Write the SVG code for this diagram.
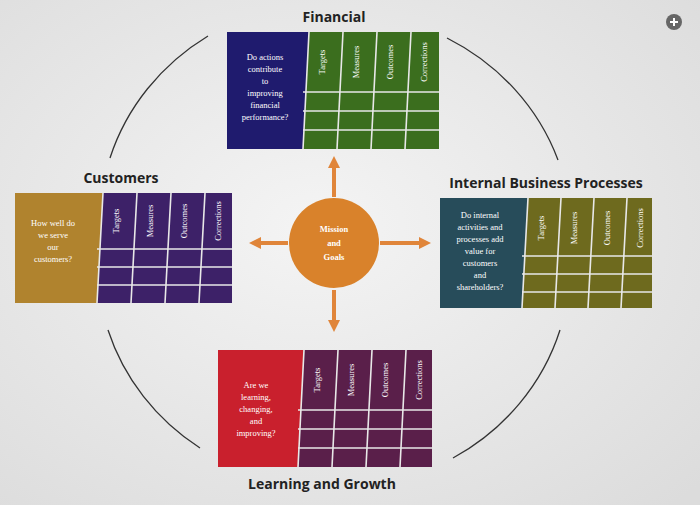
<svg xmlns="http://www.w3.org/2000/svg" width="700" height="505" viewBox="0 0 700 505">
<defs>
<radialGradient id="bg" cx="0.45" cy="0.45" r="0.75"><stop offset="0" stop-color="#f4f4f4"/><stop offset="1" stop-color="#dcdcdc"/></radialGradient>
<marker id="ah" viewBox="0 0 10 10" refX="5" refY="5" markerWidth="3" markerHeight="3" orient="auto"><path d="M0,0 L10,5 L0,10 z" fill="#e0853a"/></marker>
</defs>
<style>
.t{font-family:"Open Sans","Liberation Sans",sans-serif;font-weight:bold;fill:#222;font-size:14px;text-anchor:middle}
.q{font-family:"Liberation Serif",serif;font-size:8.5px;fill:#fff;text-anchor:middle}
.h{font-family:"Liberation Serif",serif;font-size:8.5px;fill:#fff;text-anchor:middle}
.ln{stroke:#e8e8e8;stroke-width:1.6;fill:none}
.arc{stroke:#333;stroke-width:1.3;fill:none}
.arr{stroke:#e0853a;stroke-width:4;fill:none;marker-end:url(#ah)}
</style>
<rect width="700" height="505" fill="url(#bg)"/>
<g id="connectors">
<path class="arc" d="M110,158 A235 222 0 0 1 208,36"/>
<path class="arc" d="M447,38 A235 222 0 0 1 558,160"/>
<path class="arc" d="M560,330 A235 222 0 0 1 453,458"/>
<path class="arc" d="M200,448 A235 222 0 0 1 108,330"/>
<path class="arr" d="M334,197 V162"/>
<path class="arr" d="M288,243 H255"/>
<path class="arr" d="M380,243 H425"/>
<path class="arr" d="M334,290 V326"/>
</g>
<g id="mission"><circle cx="334" cy="243" r="45" fill="#d9822b"/>
<text class="h" x="334" y="232" font-weight="bold">Mission</text><text class="h" x="334" y="246" font-weight="bold">and</text><text class="h" x="334" y="260" font-weight="bold">Goals</text></g>

<g id="financial" transform="translate(227,32)">
<text class="t" x="107" y="-10">Financial</text>
<rect x="0" y="0" width="212" height="117" fill="#3b6e1e"/>
<path d="M0,0 H82 L76,117 H0 z" fill="#1f1b6e"/>
<path class="ln" d="M76,60 H212 M76,79 H212 M76,98 H212 M82,0 L76,117 M116,0 L110,117 M150,0 L144,117 M184,0 L178,117"/>
<text class="q" x="38" y="28">Do actions</text><text class="q" x="38" y="40">contribute</text><text class="q" x="38" y="52">to</text><text class="q" x="38" y="64">improving</text><text class="q" x="38" y="76">financial</text><text class="q" x="38" y="88">performance?</text>
<text class="h" transform="translate(98,30) rotate(-90)">Targets</text><text class="h" transform="translate(132,30) rotate(-90)">Measures</text><text class="h" transform="translate(166,30) rotate(-90)">Outcomes</text><text class="h" transform="translate(200,30) rotate(-90)">Corrections</text>
</g>

<g id="customers" transform="translate(15,193)">
<text class="t" x="106" y="-10">Customers</text>
<rect x="0" y="0" width="217" height="110" fill="#3d2168"/>
<path d="M0,0 H88 L82,110 H0 z" fill="#b0832e"/>
<path class="ln" d="M82,56 H217 M82,74 H217 M82,92 H217 M88,0 L82,110 M122,0 L116,110 M156,0 L150,110 M190,0 L184,110"/>
<text class="q" x="38" y="33" fill="#f0d8a8">How well do</text><text class="q" x="38" y="45">we serve</text><text class="q" x="38" y="57">our</text><text class="q" x="38" y="69">customers?</text>
<text class="h" transform="translate(104,28) rotate(-90)">Targets</text><text class="h" transform="translate(138,28) rotate(-90)">Measures</text><text class="h" transform="translate(172,28) rotate(-90)">Outcomes</text><text class="h" transform="translate(206,28) rotate(-90)">Corrections</text>
</g>

<g id="internal" transform="translate(440,198)">
<text class="t" x="106" y="-10">Internal Business Processes</text>
<rect x="0" y="0" width="212" height="110" fill="#6e6a1e"/>
<path d="M0,0 H88 L82,110 H0 z" fill="#274c5a"/>
<path class="ln" d="M82,58 H212 M82,76 H212 M82,94 H212 M88,0 L82,110 M121,0 L115,110 M154,0 L148,110 M187,0 L181,110"/>
<text class="q" x="40" y="20">Do internal</text><text class="q" x="40" y="32">activities and</text><text class="q" x="40" y="44">processes add</text><text class="q" x="40" y="56">value for</text><text class="q" x="40" y="68">customers</text><text class="q" x="40" y="80">and</text><text class="q" x="40" y="92">shareholders?</text>
<text class="h" transform="translate(104,30) rotate(-90)">Targets</text><text class="h" transform="translate(137,30) rotate(-90)">Measures</text><text class="h" transform="translate(170,30) rotate(-90)">Outcomes</text><text class="h" transform="translate(203,30) rotate(-90)">Corrections</text>
</g>

<g id="learning" transform="translate(218,350)">
<text class="t" x="104" y="139">Learning and Growth</text>
<rect x="0" y="0" width="214" height="117" fill="#5a1f4a"/>
<path d="M0,0 H86 L80,117 H0 z" fill="#c9202d"/>
<path class="ln" d="M80,60 H214 M80,79 H214 M80,98 H214 M86,0 L80,117 M120,0 L114,117 M154,0 L148,117 M188,0 L182,117"/>
<text class="q" x="38" y="38">Are we</text><text class="q" x="38" y="50">learning,</text><text class="q" x="38" y="62">changing,</text><text class="q" x="38" y="74">and</text><text class="q" x="38" y="86">improving?</text>
<text class="h" transform="translate(102,30) rotate(-90)">Targets</text><text class="h" transform="translate(136,30) rotate(-90)">Measures</text><text class="h" transform="translate(170,30) rotate(-90)">Outcomes</text><text class="h" transform="translate(204,30) rotate(-90)">Corrections</text>
</g>
<g id="plus"><circle cx="674" cy="22" r="8" fill="#666"/><path d="M670,22 H678 M674,18 V26" stroke="#fff" stroke-width="2"/></g>
</svg>
